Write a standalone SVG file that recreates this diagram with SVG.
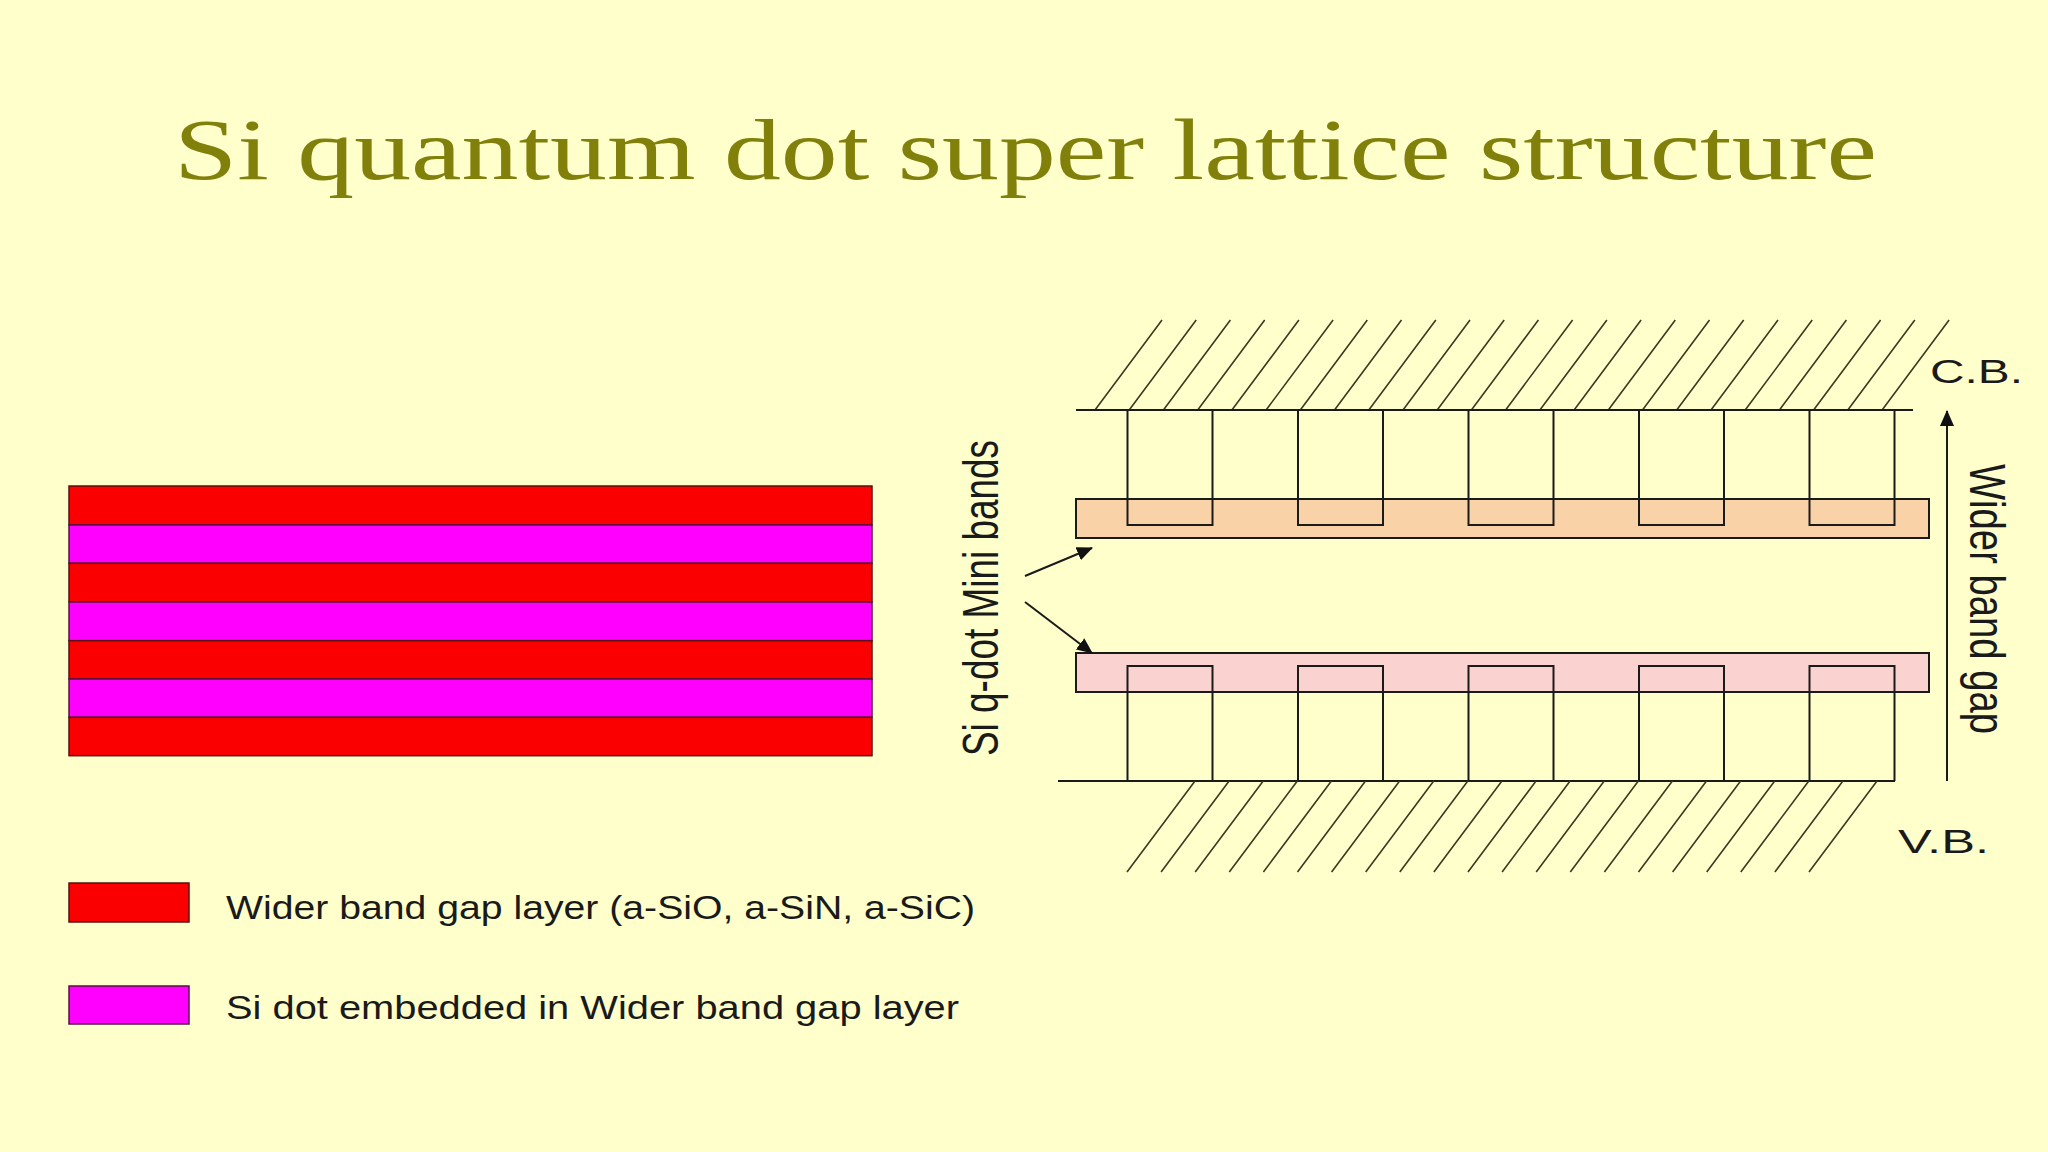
<svg xmlns="http://www.w3.org/2000/svg" width="2048" height="1152" viewBox="0 0 2048 1152">
<defs>
<style>
.bg{fill:#FFFFCC}
.title{font-family:"Liberation Serif","Times New Roman",serif;font-size:86px;fill:#80800A}
.lbl{font-family:"Liberation Sans",Arial,sans-serif;fill:#1A1A1A}
.red{fill:#FA0000;stroke:#5A1010;stroke-width:1.5}
.mag{fill:#FF00FF;stroke:#5A1040;stroke-width:1.5}
.ln{fill:none;stroke:#1A1A1A;stroke-width:2}
.hatch{fill:none;stroke:#3A3A20;stroke-width:1.6}
.conn{fill:none;stroke:#1A1A1A;stroke-width:2}
</style>
<marker id="ah" markerWidth="16" markerHeight="14" refX="15" refY="7" orient="auto" markerUnits="userSpaceOnUse">
<path d="M0,0 L16,7 L0,14 Z" fill="#111"/>
</marker>
</defs>
<rect class="bg" x="0" y="0" width="2048" height="1152"/>

<g id="title">
<text class="title" x="174" y="179" textLength="1703" lengthAdjust="spacingAndGlyphs">Si quantum dot super lattice structure</text>
</g>

<g id="layer-stack">
<rect class="red" x="69" y="486" width="803" height="39"/>
<rect class="mag" x="69" y="525" width="803" height="38.3"/>
<rect class="red" x="69" y="563.3" width="803" height="38.7"/>
<rect class="mag" x="69" y="602" width="803" height="38.7"/>
<rect class="red" x="69" y="640.7" width="803" height="38.3"/>
<rect class="mag" x="69" y="679" width="803" height="38.3"/>
<rect class="red" x="69" y="717.3" width="803" height="38.4"/>
</g>

<g id="legend-red">
<rect class="red" x="69" y="883" width="120" height="39"/>
<text class="lbl" x="226" y="919" font-size="34" textLength="749" lengthAdjust="spacingAndGlyphs">Wider band gap layer (a-SiO, a-SiN, a-SiC)</text>
</g>
<g id="legend-magenta">
<rect class="mag" x="69" y="986" width="120" height="38"/>
<text class="lbl" x="226" y="1019" font-size="34" textLength="733" lengthAdjust="spacingAndGlyphs">Si dot embedded in Wider band gap layer</text>
</g>

<g id="conduction-band">
<path class="hatch" d="M1095 410l67 -90M1129.2 410l67 -90M1163.4 410l67 -90M1197.7 410l67 -90M1231.9 410l67 -90M1266.1 410l67 -90M1300.3 410l67 -90M1334.5 410l67 -90M1368.8 410l67 -90M1403 410l67 -90M1437.2 410l67 -90M1471.4 410l67 -90M1505.6 410l67 -90M1539.9 410l67 -90M1574.1 410l67 -90M1608.3 410l67 -90M1642.5 410l67 -90M1676.7 410l67 -90M1711 410l67 -90M1745.2 410l67 -90M1779.4 410l67 -90M1813.6 410l67 -90M1847.8 410l67 -90M1882.1 410l67 -90"/>
<line class="ln" x1="1076" y1="410" x2="1913" y2="410"/>
<text class="lbl" x="1930" y="383" font-size="34" textLength="93" lengthAdjust="spacingAndGlyphs">C.B.</text>
</g>

<g id="upper-miniband">
<rect x="1076" y="499" width="853" height="39" fill="#FAD2A8" stroke="#1A1A1A" stroke-width="2"/>
</g>
<g id="upper-wells">
<path class="ln" d="M1127.5 410V525H1212.5V410M1298 410V525H1383V410M1468.5 410V525H1553.5V410M1639 410V525H1724V410M1809.5 410V525H1894.5V410"/>
</g>

<g id="lower-miniband">
<rect x="1076" y="653" width="853" height="39" fill="#FAD3D0" stroke="#1A1A1A" stroke-width="2"/>
</g>
<g id="lower-wells">
<path class="ln" d="M1127.5 781V666H1212.5V781M1298 781V666H1383V781M1468.5 781V666H1553.5V781M1639 781V666H1724V781M1809.5 781V666H1894.5V781"/>
</g>

<g id="valence-band">
<line class="ln" x1="1058" y1="781" x2="1895" y2="781"/>
<path class="hatch" d="M1195 781l-68 91M1229.1 781l-68 91M1263.2 781l-68 91M1297.3 781l-68 91M1331.4 781l-68 91M1365.5 781l-68 91M1399.6 781l-68 91M1433.7 781l-68 91M1467.8 781l-68 91M1501.9 781l-68 91M1536 781l-68 91M1570.1 781l-68 91M1604.2 781l-68 91M1638.3 781l-68 91M1672.4 781l-68 91M1706.5 781l-68 91M1740.6 781l-68 91M1774.7 781l-68 91M1808.8 781l-68 91M1842.9 781l-68 91M1877 781l-68 91"/>
<text class="lbl" x="1898" y="853" font-size="34" textLength="91" lengthAdjust="spacingAndGlyphs">V.B.</text>
</g>

<g id="miniband-label">
<text class="lbl" font-size="37" transform="translate(998,756) scale(1.333,1) rotate(-90)" textLength="316" lengthAdjust="spacingAndGlyphs">Si q-dot Mini bands</text>
</g>
<g id="gap-label">
<text class="lbl" font-size="38" transform="translate(1970,464) scale(1.333,1) rotate(90)" textLength="270" lengthAdjust="spacingAndGlyphs">Wider band gap</text>
</g>

<g id="connectors">
<line class="conn" x1="1025" y1="576" x2="1092" y2="548" marker-end="url(#ah)"/>
<line class="conn" x1="1025" y1="602" x2="1092" y2="653" marker-end="url(#ah)"/>
<line class="conn" x1="1947" y1="781" x2="1947" y2="411" marker-end="url(#ah)"/>
</g>
</svg>
